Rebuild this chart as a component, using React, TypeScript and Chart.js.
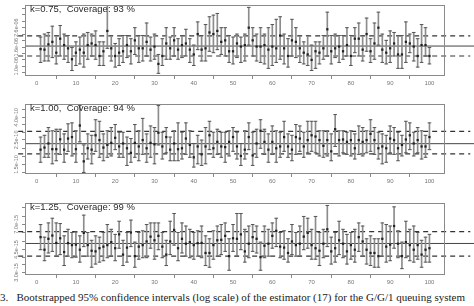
import React, { useEffect, useRef } from "react";
import { Chart, registerables } from "chart.js";
Chart.register(...registerables);

// replication index 1..100
const REPS: number[] = Array.from({ length: 100 }, (_, i) => i + 1);
const X_TICKS = [0, 10, 20, 30, 40, 50, 60, 70, 80, 90, 100];

// ---------- panel 1 : k = 0.75 (units of 1e-6) ----------
const P1_TITLE = "k=0.75,  Coverage: 93 %";
const P1_UNIT = 1e-6;
const P1_TRUE = 1.65;
const P1_BAND = [2.12, 1.29];
const P1_RANGE = [0.786, 4.56];
const P1_TICKS = [0.855, 1.0, 1.17, 1.37, 1.6, 1.88, 2.2, 2.6, 3.04, 3.56, 4.17];
const P1_LABEL_VALUES = [1.0, 1.6, 2.6];
const P1_LABELS = ["1.0e-06", "1.6e-06", "2.6e-06"];
const P1_EST = [1.53,1.51,1.72,1.83,1.40,1.98,1.69,1.56,1.19,1.40, 1.51,1.40,1.69,1.76,1.69,1.29,1.45,2.40,1.56,1.29, 1.40,1.45,1.69,1.45,1.90,1.56,1.56,1.83,1.51,1.63, 1.06,1.29,1.76,1.56,1.90,1.51,1.69,1.76,1.51,1.34, 2.22,1.51,1.56,2.31,2.22,2.40,1.83,1.90,1.45,1.45, 1.76,1.63,1.69,2.60,1.90,1.63,1.63,1.69,1.51,1.63, 1.56,2.14,1.56,1.29,1.90,1.83,1.56,1.40,1.34,1.17, 1.45,1.40,1.56,2.50,1.45,1.56,1.63,1.45,1.69,1.29, 1.98,1.98,1.51,2.22,1.45,1.76,2.60,1.51,1.40,1.56, 1.76,1.34,1.34,1.83,1.76,1.63,1.29,1.69,1.69,1.29];
const P1_HI = [2.06,2.22,2.31,2.70,2.14,2.74,2.22,2.14,1.59,1.83, 2.06,2.22,2.31,2.22,2.40,1.83,1.83,4.50,2.14,1.76, 1.98,2.14,2.14,1.98,2.60,2.14,2.14,2.92,2.06,2.22, 1.34,1.98,2.60,2.06,2.60,1.98,2.14,2.50,1.98,1.69, 3.00,2.14,2.81,3.41,3.55,3.70,2.60,2.60,2.14,2.06, 2.22,2.06,2.22,4.30,2.60,2.22,2.60,2.22,2.60,2.81, 3.20,3.41,2.22,1.98,3.20,2.60,2.14,1.83,2.14,1.69, 1.83,1.83,2.14,3.82,2.14,2.22,2.14,2.14,2.60,2.14, 2.60,2.92,2.14,3.30,1.98,2.92,3.82,2.22,1.90,2.40, 2.31,2.14,2.14,3.00,2.22,2.31,1.98,2.81,2.60,1.59];
const P1_LO = [1.10,1.14,1.14,1.24,1.06,1.29,1.19,1.10,0.90,1.02, 1.06,0.98,1.19,1.29,1.19,1.02,1.02,1.56,1.14,0.98, 1.02,1.10,1.24,1.06,1.34,1.10,1.14,1.29,1.14,1.19, 0.84,1.02,1.19,1.19,1.29,1.19,1.24,1.29,1.10,1.02, 1.51,1.14,1.14,1.45,1.40,1.51,1.34,1.29,1.10,1.06, 1.24,1.10,1.14,1.69,1.29,1.14,1.10,1.06,0.95,1.02, 1.10,1.19,1.06,0.98,1.29,1.24,1.10,1.06,1.02,0.90, 0.95,1.06,1.19,1.29,1.06,1.24,1.10,1.19,1.29,1.02, 1.40,1.29,1.14,1.45,1.10,1.19,1.69,1.10,1.06,1.10, 1.29,0.95,0.95,1.10,1.40,1.14,0.98,1.10,1.29,1.06];

// ---------- panel 2 : k = 1.00 (units of 1e-10) ----------
const P2_TITLE = "k=1.00,  Coverage: 94 %";
const P2_UNIT = 1e-10;
const P2_TRUE = 2.31;
const P2_BAND = [2.98, 1.87];
const P2_RANGE = [1.23, 5.27];
const P2_TICKS = [1.27, 1.5, 1.78, 2.1, 2.5, 2.92, 3.42, 4.0, 4.7];
const P2_LABEL_VALUES = [1.5, 2.5, 4.0];
const P2_LABELS = ["1.5e-10", "2.5e-10", "4.0e-10"];
const P2_EST = [2.04,2.13,2.32,2.06,2.06,2.53,2.04,2.57,2.65,2.06, 3.37,1.60,2.10,2.04,2.75,2.49,2.13,2.25,2.35,2.61, 2.18,2.32,2.10,1.91,2.35,2.18,2.49,2.10,2.35,2.28, 2.90,2.18,2.65,2.04,2.32,2.06,2.10,2.57,2.25,1.74, 2.18,1.85,2.18,2.75,2.10,2.40,2.18,2.15,2.40,2.65, 2.18,1.79,2.04,2.65,1.81,2.32,3.02,2.40,2.04,2.40, 2.10,2.18,2.65,2.18,2.04,2.65,2.57,2.18,2.49,2.75, 2.68,2.49,2.21,2.49,1.97,3.12,2.49,2.52,2.40,2.49, 2.10,2.49,2.40,2.49,2.83,2.49,2.10,2.18,2.10,2.57, 2.49,2.10,2.25,2.52,2.75,2.32,2.49,2.18,2.18,2.65];
const P2_HI = [2.65,2.75,3.23,3.02,3.12,3.12,2.83,3.49,3.56,3.02, 5.10,2.25,2.83,2.75,3.80,3.68,2.83,3.02,3.23,3.44, 2.93,2.93,2.65,2.57,3.44,3.02,3.91,2.83,3.34,3.23, 5.10,2.93,3.23,2.65,3.02,3.56,2.93,3.56,3.02,2.32, 2.75,2.49,3.23,3.68,2.93,3.12,2.93,2.93,3.02,3.23, 2.93,2.32,3.02,3.56,2.93,3.12,3.80,3.12,2.83,3.34, 3.02,2.93,3.68,2.83,2.75,3.44,3.34,2.93,3.68,3.68, 3.68,3.02,3.02,3.02,2.83,4.23,3.02,3.02,2.93,3.02, 2.83,3.34,3.23,3.02,3.80,3.23,2.93,2.83,2.75,3.34, 3.23,2.93,2.75,3.68,3.56,2.93,3.23,3.02,2.75,3.56];
const P2_LO = [1.57,1.74,1.74,1.52,1.62,1.85,1.57,1.97,1.79,1.57, 2.40,1.27,1.68,1.52,1.97,1.74,1.62,1.74,1.79,2.04, 1.74,1.74,1.47,1.57,1.74,1.62,1.85,1.57,1.74,1.52, 2.25,1.68,1.91,1.62,1.62,1.62,1.68,1.85,1.74,1.42, 1.52,1.47,1.52,2.04,1.74,1.85,1.74,1.57,1.79,1.97, 1.68,1.47,1.68,2.04,1.47,1.74,2.10,1.85,1.57,1.85, 1.57,1.74,1.97,1.74,1.62,1.85,1.97,1.74,1.91,1.97, 1.91,1.79,1.74,1.79,1.62,2.18,1.79,1.91,1.85,1.79, 1.68,1.85,1.79,1.91,1.97,1.85,1.68,1.52,1.57,1.91, 1.85,1.62,1.79,1.91,2.04,1.79,1.91,1.68,1.74,2.04];

// ---------- panel 3 : k = 1.25 (units of 1e-15) ----------
const P3_TITLE = "k=1.25,  Coverage: 99 %";
const P3_UNIT = 1e-15;
const P3_TRUE = 5.0;
const P3_BAND = [6.17, 4.0];
const P3_RANGE = [2.87, 10.2];
const P3_TICKS = [3.0, 3.43, 3.93, 4.5, 5.2, 6.03, 7.0, 8.1, 9.4];
const P3_LABEL_VALUES = [3.0, 4.5, 7.0];
const P3_LABELS = ["3.0e-15", "4.5e-15", "7.0e-15"];
const P3_EST = [5.59,4.48,5.43,5.75,5.05,5.48,4.30,5.03,4.86,4.90, 4.48,6.03,4.86,4.40,4.35,4.60,4.73,4.86,5.12,4.60, 5.87,4.11,4.65,6.07,4.00,4.73,4.86,5.18,5.64,5.29, 5.72,4.73,4.11,5.18,6.35,4.60,5.43,4.98,5.12,4.86, 5.03,5.05,4.23,4.23,4.86,5.29,5.33,5.72,4.00,5.48, 5.43,5.87,4.35,4.98,5.59,5.43,3.93,4.81,4.98,5.72, 6.25,4.73,4.65,4.23,5.18,4.86,4.98,5.64,6.03,4.86, 4.60,4.40,4.98,6.42,4.35,4.60,5.29,4.98,4.35,4.86, 4.48,5.59,5.18,4.48,4.23,4.23,4.00,5.43,4.73,4.90, 6.80,4.98,4.00,5.12,4.86,4.48,4.86,4.11,4.48,4.60];
const P3_HI = [6.98,5.59,7.18,7.80,7.18,7.10,5.72,6.42,6.07,6.12, 5.72,8.24,6.07,5.29,5.72,5.59,6.07,6.98,6.42,5.87, 7.40,5.29,6.07,7.55,5.12,6.07,6.25,6.98,7.18,7.18, 7.18,6.07,5.29,7.40,8.48,6.07,7.18,6.80,6.42,6.07, 6.25,6.80,5.72,5.43,6.25,6.80,6.98,7.18,5.43,6.98, 8.48,8.48,6.42,6.80,6.98,6.80,5.12,6.80,6.42,7.18, 7.80,6.07,6.25,5.43,6.98,6.07,6.80,8.05,7.80,6.42, 8.05,6.07,6.42,9.77,5.59,6.07,7.40,6.42,5.87,6.07, 6.42,7.18,6.80,5.43,5.72,5.43,5.43,7.18,6.98,6.80, 9.53,6.25,5.12,7.40,6.42,6.80,6.07,5.29,5.59,5.87];
const P3_LO = [4.48,3.69,4.23,4.35,4.00,4.11,3.39,4.00,3.89,3.93, 3.60,4.73,4.00,3.29,3.48,3.60,3.69,3.89,4.00,3.69, 4.60,3.39,3.60,4.73,3.29,3.79,3.89,3.89,4.60,3.79, 4.48,3.89,3.39,4.11,4.86,3.69,4.23,4.00,3.89,3.79, 4.00,3.89,3.39,3.29,3.79,4.00,4.11,4.35,3.12,4.35, 4.00,4.48,3.60,3.89,4.35,4.23,3.12,3.89,4.00,4.60, 4.73,3.89,3.79,3.60,4.11,4.00,4.00,4.48,4.60,3.79, 3.79,3.39,3.89,4.73,3.48,3.60,4.11,3.89,3.48,3.79, 3.60,4.35,4.00,3.48,3.39,3.29,3.29,4.00,3.60,3.69, 4.60,3.89,3.21,3.89,3.69,3.60,3.79,3.29,3.60,3.60];

const CAPTION = "3.   Bootstrapped 95% confidence intervals (log scale) of the estimator (17) for the G/G/1 queuing system";

type PanelCfg = {
  title: string; unit: number; truth: number; band: number[]; range: number[];
  ticks: number[]; labelValues: number[]; labels: string[];
  est: number[]; hi: number[]; lo: number[];
};

const PANELS: { cfg: PanelCfg; top: number; height: number }[] = [
  { cfg: { title: P1_TITLE, unit: P1_UNIT, truth: P1_TRUE, band: P1_BAND, range: P1_RANGE, ticks: P1_TICKS, labelValues: P1_LABEL_VALUES, labels: P1_LABELS, est: P1_EST, hi: P1_HI, lo: P1_LO }, top: 0, height: 87 },
  { cfg: { title: P2_TITLE, unit: P2_UNIT, truth: P2_TRUE, band: P2_BAND, range: P2_RANGE, ticks: P2_TICKS, labelValues: P2_LABEL_VALUES, labels: P2_LABELS, est: P2_EST, hi: P2_HI, lo: P2_LO }, top: 99, height: 86 },
  { cfg: { title: P3_TITLE, unit: P3_UNIT, truth: P3_TRUE, band: P3_BAND, range: P3_RANGE, ticks: P3_TICKS, labelValues: P3_LABEL_VALUES, labels: P3_LABELS, est: P3_EST, hi: P3_HI, lo: P3_LO }, top: 198, height: 88 },
];

const decoPlugin = {
  id: "panelDeco",
  afterDraw(chart: any, _args: any, opts: any) {
    const { ctx, chartArea, scales } = chart;
    const y = scales.y;
    ctx.save();
    // box
    ctx.strokeStyle = "#8a8a8a";
    ctx.lineWidth = 1;
    ctx.strokeRect(chartArea.left + 0.5, chartArea.top + 0.5, chartArea.right - chartArea.left - 1, chartArea.bottom - chartArea.top - 1);
    // rotated y labels
    ctx.fillStyle = "#777";
    ctx.font = '5.5px "Liberation Sans"';
    ctx.textAlign = "center";
    ctx.textBaseline = "middle";
    opts.labelValues.forEach((v: number, i: number) => {
      const py = y.getPixelForValue(v * opts.unit);
      ctx.save();
      ctx.translate(16, py);
      ctx.rotate(-Math.PI / 2);
      ctx.fillText(opts.labels[i], 0, 0);
      ctx.restore();
    });
    // title
    ctx.fillStyle = "#2a2a2a";
    ctx.font = '9.5px "Liberation Sans"';
    ctx.textAlign = "left";
    ctx.textBaseline = "middle";
    ctx.fillText(opts.title, chartArea.left + 5, chartArea.top + 4.5);
    ctx.restore();
  },
};

function Panel({ cfg, top, height }: { cfg: PanelCfg; top: number; height: number }) {
  const ref = useRef<HTMLCanvasElement>(null);
  useEffect(() => {
    const u = cfg.unit;
    const chart = new Chart(ref.current as HTMLCanvasElement, {
      type: "bar",
      data: {
        datasets: [
          {
            type: "scatter",
            data: REPS.map((r, i) => ({ x: r, y: cfg.est[i] * u })),
            pointStyle: "rect",
            pointRadius: 1.6,
            backgroundColor: "#222",
            borderColor: "#222",
            borderWidth: 0,
          } as any,
          {
            type: "scatter",
            data: REPS.map((r, i) => ({ x: r, y: cfg.hi[i] * u })),
            pointStyle: "line",
            pointRadius: 1.8,
            borderColor: "#555",
            borderWidth: 1,
          } as any,
          {
            type: "scatter",
            data: REPS.map((r, i) => ({ x: r, y: cfg.lo[i] * u })),
            pointStyle: "line",
            pointRadius: 1.8,
            borderColor: "#555",
            borderWidth: 1,
          } as any,
          {
            type: "bar",
            data: REPS.map((r, i) => ({ x: r, y: [cfg.lo[i] * u, cfg.hi[i] * u] })),
            backgroundColor: "#8c8c8c",
            borderWidth: 0,
            barThickness: 1,
          } as any,
          {
            type: "line",
            data: [{ x: -2.96, y: cfg.truth * u }, { x: 112, y: cfg.truth * u }],
            borderColor: "#444",
            borderWidth: 1,
            pointRadius: 0,
            clip: false,
          } as any,
          {
            type: "line",
            data: [{ x: -4.7, y: cfg.band[0] * u }, { x: 110.4, y: cfg.band[0] * u }],
            borderColor: "#333",
            borderWidth: 1.2,
            borderDash: [5, 4],
            pointRadius: 0,
            clip: false,
          } as any,
          {
            type: "line",
            data: [{ x: -4.7, y: cfg.band[1] * u }, { x: 110.4, y: cfg.band[1] * u }],
            borderColor: "#333",
            borderWidth: 1.2,
            borderDash: [5, 4],
            pointRadius: 0,
            clip: false,
          } as any,
        ],
      },
      options: {
        responsive: false,
        animation: false,
        devicePixelRatio: 1,
        events: [],
        layout: { padding: { top: 1, right: 29, left: 0, bottom: 0 } },
        plugins: {
          legend: { display: false },
          tooltip: { enabled: false },
          panelDeco: { title: cfg.title, unit: u, labelValues: cfg.labelValues, labels: cfg.labels },
        } as any,
        scales: {
          x: {
            type: "linear",
            min: -2.96,
            max: 103.96,
            offset: false,
            bounds: "data",
            afterBuildTicks: (s: any) => { s.ticks = X_TICKS.map((v) => ({ value: v })); },
            afterFit: (s: any) => { s.height = 11; },
            ticks: { font: { size: 6, family: "Liberation Sans" }, color: "#777", padding: 1, maxRotation: 0, autoSkip: false },
            grid: { display: true, drawOnChartArea: false, drawTicks: true, tickLength: 3, color: "#888" },
            border: { display: false },
          },
          y: {
            type: "logarithmic",
            min: cfg.range[0] * u,
            max: cfg.range[1] * u,
            bounds: "data",
            afterBuildTicks: (s: any) => { s.ticks = cfg.ticks.map((v) => ({ value: v * u })); },
            afterFit: (s: any) => { s.width = 25; },
            ticks: { display: false },
            grid: { display: true, drawOnChartArea: false, drawTicks: true, tickLength: 3, color: "#888" },
            border: { display: false },
          },
        } as any,
      },
      plugins: [decoPlugin as any],
    });
    return () => chart.destroy();
  }, []);
  return (
    <canvas
      ref={ref}
      width={474}
      height={height}
      style={{ position: "absolute", left: 0, top, width: 474, height }}
    />
  );
}

export default function App() {
  return (
    <div style={{ position: "fixed", left: 0, top: 0, width: 474, height: 306, background: "#fff", overflow: "hidden" }}>
      {PANELS.map((p, i) => (
        <Panel key={i} cfg={p.cfg} top={p.top} height={p.height} />
      ))}
      <div
        style={{
          position: "absolute",
          left: 0,
          top: 290,
          fontFamily: '"Liberation Serif", serif',
          fontSize: "11px",
          lineHeight: "14px",
          whiteSpace: "pre",
          color: "#1a1a1a",
        }}
      >
        {CAPTION}
      </div>
    </div>
  );
}
